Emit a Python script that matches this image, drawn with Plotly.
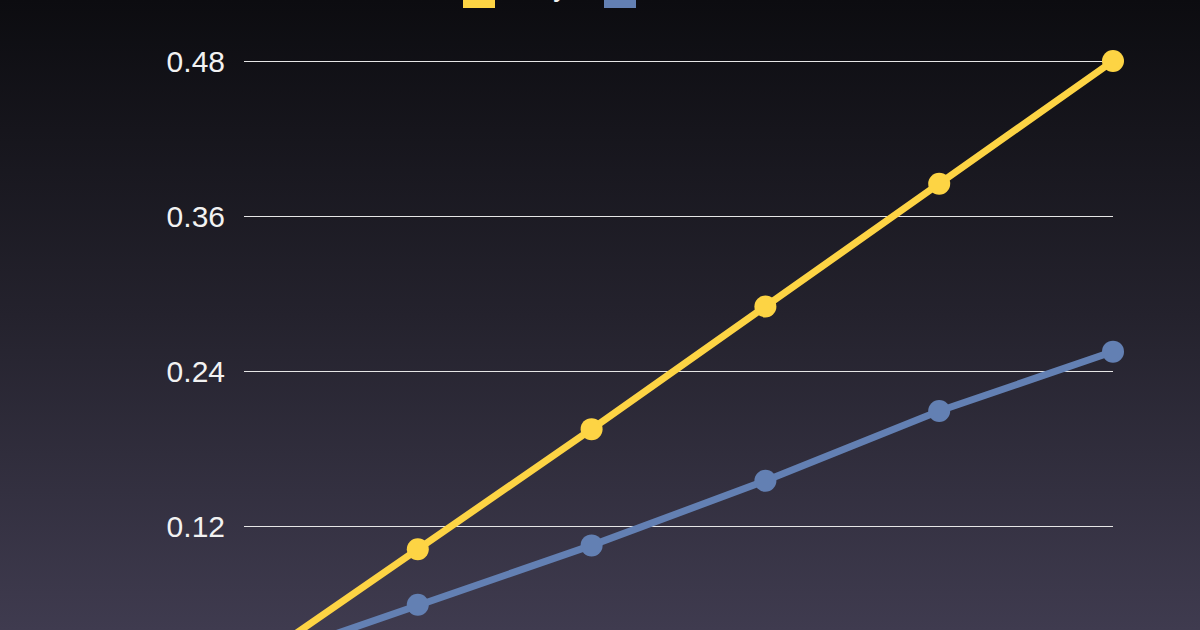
import plotly.graph_objects as go

# data (x labels and the bottom of the chart are cropped out)
periods = ["P1", "P2", "P3", "P4", "P5", "P6"]
daily = [0.009, 0.102, 0.195, 0.290, 0.385, 0.480]
annual = [0.012, 0.059, 0.105, 0.155, 0.209, 0.255]
series_names = ["Daily", "Annual"]
tick_vals = [0.12, 0.24, 0.36, 0.48]

W, H = 1200, 630
L, R, T, B = 244, 87, 56, 0
pw, ph = W - L - R, H - T - B
PX = 0.12 / 155  # value per pixel
TOP = 0.48 + 5 * PX  # 0.48 sits at y=61

YELLOW = "#fdd444"
BLUE = "#6380b3"


def px_x(x):
    return (x - L) / pw


def px_y(y):
    return 1 + (T - y) / ph


# background gradient as an svg data uri
grad_svg = (
    "data:image/svg+xml;utf8,<svg xmlns='http://www.w3.org/2000/svg' width='1200' height='630' preserveAspectRatio='none'>"
    "<defs><linearGradient id='g' x1='0' y1='0' x2='0' y2='1'>"
    "<stop offset='0' stop-color='%230c0c10'/>"
    "<stop offset='0.5' stop-color='%2324222d'/>"
    "<stop offset='1' stop-color='%233f3b4f'/>"
    "</linearGradient></defs><rect width='1200' height='630' fill='url(%23g)'/></svg>"
)

fig = go.Figure()
for name, vals, col in [(series_names[0], daily, YELLOW), (series_names[1], annual, BLUE)]:
    fig.add_trace(go.Scatter(
        x=periods, y=vals, name=name, mode="lines+markers",
        line=dict(color=col, width=7),
        marker=dict(color=col, size=22),
        cliponaxis=False, showlegend=False,
    ))

# legend swatches + labels (cut off at the top edge like the reference)
for x0, name, col in [(463, series_names[0], YELLOW), (604, series_names[1], BLUE)]:
    fig.add_shape(type="rect", xref="paper", yref="paper",
                  x0=px_x(x0), x1=px_x(x0 + 32), y0=px_y(8), y1=px_y(-24),
                  fillcolor=col, line=dict(width=0), layer="above")
    fig.add_annotation(text=name, xref="paper", yref="paper",
                       x=px_x(x0 + 40), y=px_y(4), xanchor="left", yanchor="bottom",
                       showarrow=False, font=dict(size=28, color="#f2f2f2"))

fig.add_layout_image(dict(
    source=grad_svg, xref="paper", yref="paper",
    x=px_x(0), y=px_y(0), sizex=W / pw, sizey=H / ph,
    xanchor="left", yanchor="top", sizing="stretch", layer="below",
))

fig.update_layout(
    width=W, height=H,
    margin=dict(l=L, r=R, t=T, b=B, autoexpand=False),
    paper_bgcolor="#0c0c10", plot_bgcolor="rgba(0,0,0,0)",
    font=dict(family="Liberation Sans, Arial, sans-serif", color="#f2f2f2"),
    showlegend=False,
    xaxis=dict(range=[0, len(periods) - 1], showgrid=False, zeroline=False,
               showticklabels=False, showline=False, fixedrange=True),
    yaxis=dict(range=[TOP - ph * PX, TOP], tickvals=tick_vals,
               ticktext=["%.2f" % v for v in tick_vals],
               showgrid=True, gridcolor="#e6e6e6", gridwidth=1,
               zeroline=False, showline=False, fixedrange=True,
               tickfont=dict(size=30, color="#f2f2f2"), ticklabelstandoff=18),
)

fig.write_html("out.html", config={"displayModeBar": False},
               post_script="document.body.style.margin='0';")
